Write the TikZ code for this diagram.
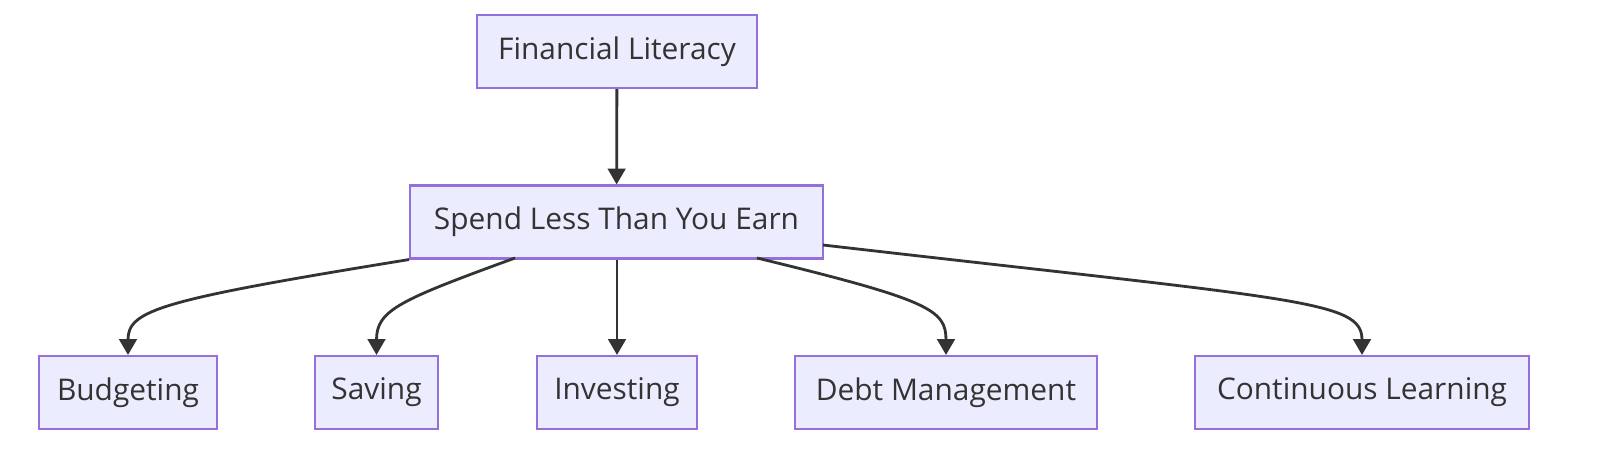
\documentclass[tikz,border=0pt]{standalone}
\usepackage{fontspec}
\setmainfont{Open Sans}
\usetikzlibrary{arrows.meta}
\definecolor{boxfill}{HTML}{ECECFF}
\definecolor{boxline}{HTML}{9370DB}
\definecolor{arrowc}{HTML}{333333}
\tikzset{
  box/.style={draw=boxline, fill=boxfill, line width=1.2pt, minimum height=1.46cm,
    inner sep=0pt, font=\fontsize{17}{20}\selectfont, text=arrowc},
  link/.style={draw=arrowc, line width=1.6pt, -{Triangle[length=9pt,width=10pt]}}
}
\begin{document}
\begin{tikzpicture}[x=0.02cm, y=-0.02cm]
  \useasboundingbox (0,0) rectangle (1600,454);
  % nodes
  \node[box, minimum width=5.6cm]  (lit)    at (617,51.5)  {Financial Literacy};
  \node[box, minimum width=8.26cm] (spend)  at (616.5,222) {Spend Less Than You Earn};
  \node[box, minimum width=3.56cm] (budget) at (128,392.5) {Budgeting};
  \node[box, minimum width=2.46cm] (save)   at (376.5,392.5) {Saving};
  \node[box, minimum width=3.2cm]  (invest) at (617,392.5) {Investing};
  \node[box, minimum width=6.04cm] (debt)   at (946,392.5) {Debt Management};
  \node[box, minimum width=6.68cm] (learn)  at (1362,392.5) {Continuous Learning};
  % connectors
  \coordinate (s1) at (515,258);
  \coordinate (s2) at (757,258);
  \coordinate (s3) at (823,245);
  \draw[link] (lit) -- (spend);
  \draw[link] (spend.south west) .. controls (160,300) and (128,310) .. (budget.north);
  \draw[link] (s1) .. controls (400,300) and (376.5,310) .. (save.north);
  \draw[link] (spend.south -| invest) -- (invest.north);
  \draw[link] (s2) .. controls (930,300) and (946,310) .. (debt.north);
  \draw[link] (s3) .. controls (1300,300) and (1362,300) .. (learn.north);
\end{tikzpicture}
\end{document}
